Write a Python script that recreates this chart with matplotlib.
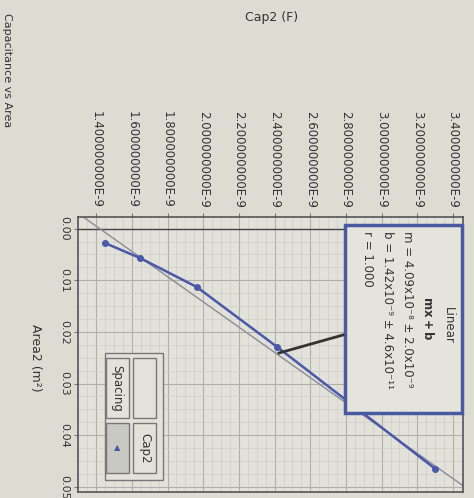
import matplotlib
matplotlib.use("Agg")
import matplotlib.pyplot as plt
import numpy as np
from matplotlib.patches import Rectangle

area = [0.0028, 0.0057, 0.0113, 0.0229, 0.0465]
cap = [1.45e-9, 1.647e-9, 1.964e-9, 2.414e-9, 3.30e-9]
m_fit, b_fit = 4.09e-8, 1.42e-9
cap_ticks = [1.4e-9 + 0.2e-9 * i for i in range(11)]
area_ticks = [0.00, 0.01, 0.02, 0.03, 0.04, 0.05]

W, H = 474, 498
bg = "#dddcd3"
fig = plt.figure(figsize=(4.74, 4.98), dpi=100, facecolor=bg)
L, R, T, B = 78, 463, 217, 492
ax = fig.add_axes([L / W, 1 - B / H, (R - L) / W, (B - T) / H], facecolor="#e2e2da")
ax.set_xlim(1.298e-9, 3.456e-9)
ax.set_ylim(0.051, -0.00226)

ax.set_xticks(cap_ticks)
ax.set_xticks(np.arange(1.3e-9, 3.45e-9, 0.05e-9), minor=True)
ax.set_yticks(area_ticks)
ax.set_yticks(np.arange(0, 0.051, 0.0025), minor=True)
ax.xaxis.tick_top()
ax.set_xticklabels(["%.9fE-9" % (v * 1e9) for v in cap_ticks], rotation=-90,
                   fontsize=8.5, color="#333333", va="bottom")
ax.set_yticklabels(["%.2f" % v for v in area_ticks], rotation=-90,
                   fontsize=8, color="#333333", ha="right", va="center")
ax.tick_params(length=3, color="#777777")
ax.tick_params(which="minor", length=0)
ax.grid(True, which="major", color="#b0b0a8", lw=0.8)
ax.grid(True, which="minor", color="#cfcfc7", lw=0.5)
for s in ax.spines.values():
    s.set_color("#555555")
    s.set_linewidth(1.2)
ax.axhline(0, color="#444444", lw=1)

yy = np.array([-0.01, 0.06])
ax.plot(b_fit + m_fit * yy, yy, color="#8a8a9a", lw=1)
ax.plot(cap, area, color="#4a58a8", lw=1.8, marker="o", ms=4)

def fb(x0, y0, x1, y1, **kw):
    fig.add_artist(Rectangle((x0 / W, 1 - y1 / H), (x1 - x0) / W, (y1 - y0) / H,
                             transform=fig.transFigure, **kw))
fb(345, 225, 462, 413, facecolor="#e4e4dc", edgecolor="#4a5aa0", lw=2.5)
fig.add_artist(plt.Line2D([279 / W, 343 / W], [1 - 353 / H, 1 - 335 / H], color="#333333", lw=2,
                          transform=fig.transFigure))
fig.text(448 / W, 1 - 325 / H, "Linear", rotation=-90, ha="center", va="center", fontsize=8.5, color="#333333")
fig.text(428 / W, 1 - 318 / H, r"$\mathbf{mx + b}$", rotation=-90, ha="center", va="center", fontsize=8.5, color="#333333")
for x, t in [(407, "m = 4.09x10⁻⁸ ± 2.0x10⁻⁹"), (387, "b = 1.42x10⁻⁹ ± 4.6x10⁻¹¹"), (367, "r = 1.000")]:
    fig.text(x / W, 1 - 231 / H, t, rotation=-90, ha="center", va="top", fontsize=8.5, color="#333333")

fb(105, 353, 163, 480, facecolor="#e2e2da", edgecolor="#777777", lw=1)
fb(133, 358, 156, 418, facecolor="none", edgecolor="#777777", lw=1)
fb(133, 423, 156, 473, facecolor="none", edgecolor="#777777", lw=1)
fb(106, 358, 129, 418, facecolor="none", edgecolor="#777777", lw=1)
fb(106, 423, 129, 473, facecolor="#c9c9c3", edgecolor="#777777", lw=1)
fig.text(117 / W, 1 - 388 / H, "Spacing", rotation=-90, ha="center", va="center", fontsize=8.5, color="#333333")
fig.text(145 / W, 1 - 448 / H, "Cap2", rotation=-90, ha="center", va="center", fontsize=8.5, color="#333333")
fig.text(117 / W, 1 - 448 / H, "▲", rotation=0, ha="center", va="center", fontsize=6, color="#4a58a8")

fig.text(272 / W, 1 - 17 / H, "Cap2 (F)", ha="center", va="center", fontsize=9, color="#333333")
fig.text(35 / W, 1 - 358 / H, "Area2 (m²)", rotation=-90, ha="center", va="center", fontsize=9, color="#333333")
fig.text(7 / W, 1 - 70 / H, "Capacitance vs Area", rotation=-90, ha="center", va="center", fontsize=8, color="#333333")

fig.savefig("out.png", dpi=100, facecolor=bg)
